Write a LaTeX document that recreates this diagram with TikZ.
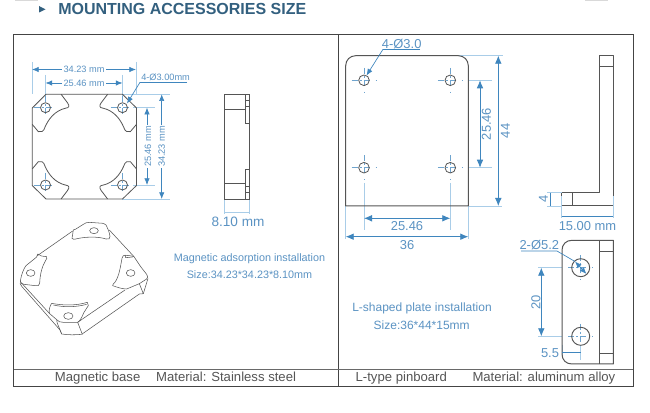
\documentclass[tikz,border=0pt]{standalone}
\usepackage{fontspec}
\setmainfont{Liberation Sans}
\usetikzlibrary{arrows.meta}
\definecolor{dimc}{HTML}{3F86BE}
\definecolor{dimt}{HTML}{5B93C3}
\definecolor{extc}{HTML}{A9CDE8}
\definecolor{linec}{HTML}{555555}
\definecolor{framec}{HTML}{444444}
\definecolor{titlec}{HTML}{33607F}
\definecolor{capc}{HTML}{555555}
\tikzset{
  part/.style={draw=linec,line width=0.6pt},
  thinpart/.style={draw=linec,line width=0.4pt,line join=round},
  frameline/.style={draw=framec,line width=0.75pt},
  dimline/.style={draw=dimc,line width=0.5pt,{Latex[length=5pt,width=4pt]}-{Latex[length=5pt,width=4pt]}},
  bigdim/.style={draw=dimc,line width=0.6pt,{Latex[length=6pt,width=5pt]}-{Latex[length=6pt,width=5pt]}},
  leader/.style={draw=dimc,line width=0.5pt,-{Latex[length=5pt,width=4pt]}},
  plainblue/.style={draw=dimc,line width=0.5pt},
  extline/.style={draw=extc,line width=0.55pt},
  centre/.style={draw=dimc!75,line width=0.4pt,dash pattern=on 4.5pt off 1.5pt on 1.5pt off 1.5pt on 4.5pt},
  smalltxt/.style={text=dimt,inner sep=1pt,font=\fontsize{6.9}{8}\selectfont},
  midtxt/.style={text=dimt,inner sep=0pt,font=\fontsize{9.7}{11}\selectfont},
  bigtxt/.style={text=dimt,inner sep=0pt,font=\fontsize{10.2}{12}\selectfont},
  notetxt/.style={text=dimt,inner sep=0pt,font=\fontsize{8.1}{10}\selectfont},
  notetxtb/.style={text=dimt,inner sep=0pt,font=\fontsize{9}{11}\selectfont},
  captxt/.style={text=capc,inner sep=0pt,font=\fontsize{9.85}{12}\selectfont},
}
\newcommand{\crosshair}[3]{%
  \draw[centre] (#1-#3,#2) -- (#1+#3,#2);
  \draw[centre] (#1,#2-#3) -- (#1,#2+#3);
}
\begin{document}
\begin{tikzpicture}[x=0.75pt,y=-0.75pt]
\useasboundingbox (0,0) rectangle (650,413);
\fill[white] (0,0) rectangle (650,413);
% top marks
\draw[black!15,line width=0.6pt] (15,0.4) -- (38,0.4);
\draw[black!15,line width=0.6pt] (585,0.4) -- (608,0.4);
% title
\fill[titlec] (39,6) -- (45.5,9.3) -- (39,12.5) -- cycle;
\node[anchor=west,text=titlec,inner sep=0pt,font=\bfseries\fontsize{12}{14}\selectfont] (title) at (58,9.3) {MOUNTING ACCESSORIES SIZE};
% frame
\draw[frameline] (13.5,34.5) rectangle (633,386.3);
\draw[frameline] (338.3,34.5) -- (338.3,386.3);
\draw[draw=framec!80,line width=0.6pt] (13.5,369.3) -- (633,369.3);
\node[captxt] (capL) at (175.5,378) {Magnetic base\hspace{1.2em}Material: Stainless steel};
\node[captxt] (capR) at (485.5,378) {L-type pinboard\hspace{1.95em}Material: aluminum alloy};

% ---- magnetic base top view: extension lines
\draw[extline] (32,62) -- (32,94); \draw[extline] (136,62) -- (136,94);
\draw[extline] (45.5,75) -- (45.5,97); \draw[extline] (122.5,75) -- (122.5,97);
\draw[extline] (122,94.3) -- (170,94.3); \draw[extline] (122,199) -- (170,199);
\draw[extline] (133,107.7) -- (155,107.7); \draw[extline] (133,185) -- (155,185);
% outline
\draw[part,line join=round] (46,94.3) -- (122.5,94.3) -- (136.5,108) -- (136.5,185.5) -- (122.5,199) -- (46,199) -- (32.2,185.5) -- (32.2,108) -- cycle;
\foreach \sx/\sy in {1/1,-1/1,1/-1,-1/-1}{
  \begin{scope}[shift={(84.35,146.65)},xscale=\sx,yscale=\sy]
    \draw[part,line join=round] (-23.25,-52.35) -- (-16.75,-43.75) .. controls (-14.5,-40.5) and (-15.5,-38.8) .. (-18.25,-38.6)
      .. controls (-30,-36) and (-36,-27) .. (-39.25,-19.75)
      .. controls (-40.5,-15) and (-43.5,-14) .. (-46,-15)
      -- (-52.1,-22.25);
  \end{scope}
}
\foreach \hx/\hy in {45.5/107.7,122.5/107.7,45.5/185,122.5/185}{
  \crosshair{\hx}{\hy}{12}
  \draw[part] (\hx,\hy) circle (5);
}
\draw[dimline] (32,69.5) -- (136,69.5);
\node[smalltxt,fill=white] (d1) at (84,69.5) {34.23 mm};
\draw[dimline] (45.5,83) -- (122.5,83);
\node[smalltxt,fill=white] (d2) at (84,83) {25.46 mm};
\draw[dimline] (147,107.7) -- (147,185);
\node[smalltxt,fill=white,rotate=90] (d3) at (148,146.5) {25.46 mm};
\draw[dimline] (161.7,94.3) -- (161.7,199);
\node[smalltxt,fill=white,rotate=90] (d4) at (161.7,146.5) {34.23 mm};
\node[smalltxt,anchor=south west,inner sep=0pt] (hole4) at (141,81.3) {4-Ø3.00mm};
\draw[plainblue] (187,82.3) -- (140,82.3);
\draw[leader] (140,82.3) -- (127,103.5);

% ---- magnetic base side view
\draw[extline] (224.7,184) -- (224.7,214); \draw[extline] (249.3,184) -- (249.3,214);
\draw[extline] (224.7,212.7) -- (249.3,212.7);
\draw[part] (224.7,94.3) rectangle (249.3,199);
\draw[part] (224.7,109) -- (245.3,109);
\draw[part] (245.3,94.3) -- (245.3,123.3) -- (249.3,123.3);
\draw[part] (245.3,100) -- (249.3,100); \draw[part] (245.3,106.7) -- (249.3,106.7);
\draw[part] (224.7,183.5) -- (245.3,183.5);
\draw[part] (245.3,199) -- (245.3,169.3) -- (249.3,169.3);
\draw[part] (245.3,186) -- (249.3,186); \draw[part] (245.3,192.5) -- (249.3,192.5);
\node[bigtxt] (d810) at (238,222) {8.10 mm};
\node[notetxt] (n1) at (249.5,259) {Magnetic adsorption installation};
\node[notetxt] (n2) at (249.5,274.5) {Size:34.23*34.23*8.10mm};

% ---- iso view, in 3x crop coordinates
\begin{scope}[shift={(10,215)},x=0.25pt,y=-0.25pt]
  % top tab
  \draw[thinpart] (190,45) -- (186,70) .. controls (190,74) and (193,73) .. (197,72)
     .. controls (225,65) and (265,64) .. (288,72) .. controls (296,74) and (301,72) .. (300,64)
     .. controls (298,50) and (292,38) .. (288,30) .. controls (286,26) and (284,25) .. (280,25)
     -- (238,22) .. controls (230,22) and (226,24) .. (220,28) -- (196,43) -- cycle;
  \draw[thinpart] (252,47) ellipse (13 and 9);
  % left tab
  \draw[thinpart] (80,126) -- (83,117) .. controls (90,123) and (100,125) .. (110,125)
     .. controls (112,128) and (110,132) .. (106,138) .. controls (96,155) and (90,178) .. (89,205)
     .. controls (87,213) and (84,213) .. (76,212) -- (42,208) .. controls (34,207) and (30,204) .. (31,198)
     .. controls (34,180) and (40,162) .. (48,152) -- cycle;
  \draw[thinpart] (62,174) ellipse (13 and 10);
  % right tab
  \draw[thinpart] (340,122) .. controls (350,120) and (362,122) .. (372,125) -- (392,155) -- (410,178)
     .. controls (414,184) and (414,188) .. (410,192) -- (388,206) -- (350,222)
     .. controls (335,222) and (320,216) .. (308,212) .. controls (308,207) and (312,204) .. (314,203)
     .. controls (328,185) and (332,150) .. (336,130) .. controls (337,126) and (338,124) .. (340,122) -- cycle;
  \draw[thinpart] (362,174) ellipse (13 and 10);
  \draw[thinpart] (345,120) -- (347,128) -- (368,126);
  % bottom tab
  \draw[thinpart] (125,265) .. controls (160,272) and (200,272) .. (232,262) -- (235,272) -- (222,292)
     .. controls (214,310) and (210,318) .. (203,322) -- (160,322) .. controls (150,322) and (146,320) .. (140,314)
     -- (118,295) .. controls (116,285) and (120,272) .. (125,265) -- cycle;
  \draw[thinpart] (130,270) .. controls (165,278) and (200,276) .. (230,268);
  \draw[thinpart] (175,303) ellipse (14 and 10);
  % edges of the body
  \draw[thinpart] (188,48) -- (82,122);
  \draw[thinpart] (298,45) -- (372,125);
  \draw[thinpart] (31,200) -- (118,295);
  \draw[thinpart] (30,205) -- (36,215) -- (150,345) -- (155,357) .. controls (175,360) and (195,360) .. (215,358);
  \draw[thinpart] (140,316) -- (142,325) -- (155,357);
  \draw[thinpart] (203,322) -- (217,358);
  \draw[thinpart] (215,358) -- (388,237) -- (400,236) -- (414,190);
  \draw[thinpart] (388,206) -- (400,236);
  \draw[thinpart] (345,225) -- (232,302) -- (203,322);
\end{scope}

% ---- L plate front view
\foreach \vx in {364,450.3}{
  \draw[extline] (\vx,183) -- (\vx,230);
}
\draw[extline] (345.7,196.7) -- (345.7,239);
\draw[extline] (468.3,196.7) -- (468.3,239);
\draw[extline] (450,55.7) -- (503,55.7);
\draw[extline] (468,206) -- (502,206);
\draw[extline] (468,80.3) -- (492,80.3);
\draw[extline] (468,167.7) -- (492,167.7);
\draw[part,line width=0.75pt,line join=round] (345.7,206) -- (345.7,65.7) .. controls (345.7,60) and (350,55.7) .. (355.7,55.7) -- (458.3,55.7) .. controls (464,55.7) and (468.3,60) .. (468.3,65.7) -- (468.3,206) -- cycle;
\foreach \hx/\hy in {364/80.3,450.3/80.3,364/167.7,450.3/167.7}{
  \crosshair{\hx}{\hy}{12.5}
  \draw[part] (\hx,\hy) circle (5.3);
}
\draw[bigdim] (498.3,55.7) -- (498.3,206);
\node[midtxt,rotate=90] (d44) at (505.5,131) {44};
\draw[bigdim] (480,80.3) -- (480,167.7);
\node[midtxt,rotate=90] (d2546v) at (486.5,124) {25.46};
\draw[bigdim] (364,218.3) -- (450.3,218.3);
\node[midtxt] (d2546h) at (407,226) {25.46};
\draw[bigdim] (345.7,236.7) -- (468.3,236.7);
\node[midtxt] (d36) at (407,245) {36};
\node[midtxt] (hole3) at (401.7,44.5) {4-Ø3.0};
\draw[plainblue] (420,49.3) -- (383,49.3);
\draw[leader] (383,49.3) -- (366.5,75.5);

% ---- L plate side view
\draw[part,line width=0.75pt,line join=round] (599.3,192.7) -- (599.3,55.7) -- (613.3,55.7) -- (613.3,206) -- (561.7,206) -- (561.7,192.7) -- cycle;
\draw[part] (599.3,66.3) -- (613.3,66.3);
\draw[part] (572.3,192.7) -- (572.3,206);
\draw[extline] (547,192.7) -- (562,192.7);
\draw[extline] (547,206) -- (562,206);
\draw[extline] (561.7,196) -- (561.7,218.5);
\draw[extline] (613.3,196) -- (613.3,218.5);
\draw[plainblue] (550,192.7) -- (550,206);
\node[midtxt,rotate=90] (d4s) at (543.5,199.3) {4};
\draw[plainblue] (561.7,216) -- (613.3,216);
\node[midtxt] (d15) at (587.5,225.7) {15.00 mm};

% ---- L plate bottom view
\draw[extline] (538,267.7) -- (562,267.7);
\draw[extline] (538,336.3) -- (562,336.3);
\draw[extline] (562,345) -- (562,356);
\draw[part,line width=0.75pt,line join=round] (572,240.3) -- (613.3,240.3) -- (613.3,364) -- (572,364) .. controls (566,364) and (562,360) .. (562,354) -- (562,250.3) .. controls (562,244.5) and (566,240.3) .. (572,240.3) -- cycle;
\draw[part] (599.3,240.3) -- (599.3,364);
\draw[part] (599.3,251) -- (613.3,251);
\draw[part] (599.3,353.3) -- (613.3,353.3);
\crosshair{580.7}{267.7}{12.5}
\crosshair{580.7}{336.3}{12.5}
\draw[extline] (580.7,345) -- (580.7,360);
\draw[part,line width=0.7pt] (580.7,267.7) circle (9);
\draw[part,line width=0.7pt] (580.7,336.3) circle (9);
\node[midtxt] (hole2) at (539.3,245.5) {2-Ø5.2};
\draw[plainblue] (521,251) -- (557,251) -- (575,261.5);
\draw[dimline,line width=0.6pt] (575,261.5) -- (586.5,274);
\draw[bigdim] (541.3,267.7) -- (541.3,336.3);
\node[midtxt,rotate=90] (d20) at (536,302) {20};
\node[midtxt] (d55) at (550,353) {5.5};
\draw[plainblue] (562,352.3) -- (581,352.3);
\node[notetxtb] (n3) at (422,308.5) {L-shaped plate installation};
\node[notetxtb] (n4) at (421.7,325.5) {Size:36*44*15mm};
\end{tikzpicture}
\end{document}
